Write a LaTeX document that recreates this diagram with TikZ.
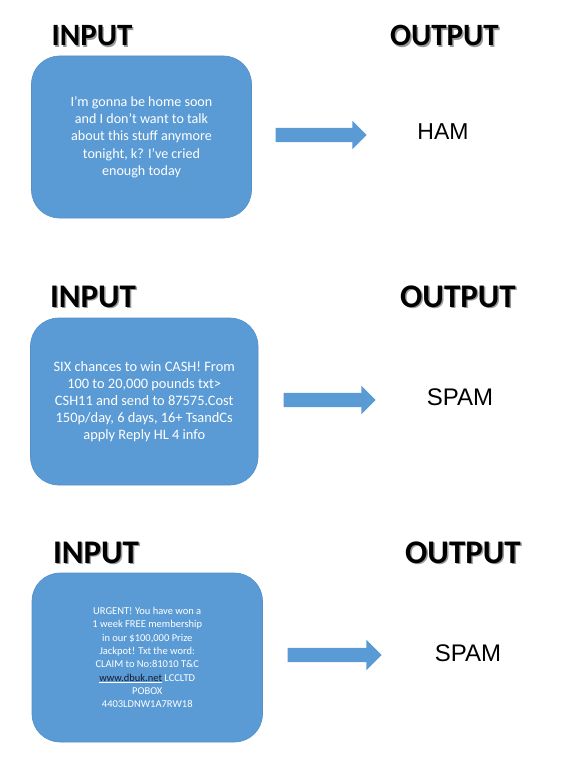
\documentclass[tikz,border=0pt]{standalone}
\usepackage{fontspec}
\setmainfont{Carlito}
\newfontfamily\arialfont{Liberation Sans}
\usetikzlibrary{shapes.arrows}
\definecolor{boxblue}{HTML}{5B9BD5}
\definecolor{boxedge}{HTML}{538FC8}
\definecolor{linkcol}{HTML}{1A1A2E}
\newcommand\shtext[1]{\rlap{\hspace{1.4pt}\raisebox{-1.4pt}{\textcolor{black!40}{#1}}}#1}
\begin{document}
\begin{tikzpicture}[x=1pt,y=-1pt,
  msgbox/.style={draw=boxedge, line width=0.6pt, fill=boxblue, rounded corners=28pt, text=white, align=center, inner sep=0pt},
  header/.style={font=\fontsize{31}{36}\selectfont\bfseries, anchor=base, inner sep=0pt},
  verdict/.style={font=\arialfont\fontsize{23}{27}\selectfont, anchor=base, inner sep=0pt},
  blockarrow/.style={single arrow, fill=boxblue, inner xsep=0pt, inner ysep=7pt, single arrow head extend=7pt, minimum height=91pt}]
\useasboundingbox (0,0) rectangle (561,762);
% section 1
\node[header] (in1) at (92,46) {\shtext{INPUT}};
\node[header] (out1) at (444.5,46) {\shtext{OUTPUT}};
\node[msgbox, minimum width=220pt, minimum height=162pt, font=\fontsize{14.1}{17.25}\selectfont] (m1) at (141.5,137) {I’m gonna be home soon\\and I don’t want to talk\\about this stuff anymore\\tonight, k? I’ve cried\\enough today};
\node[blockarrow] (a1) at (317.5,135) {};
\node[verdict] (v1) at (443,140) {HAM};
% section 2
\node[header, font=\fontsize{33}{38}\selectfont\bfseries] (in2) at (93,307) {\shtext{INPUT}};
\node[header, font=\fontsize{33}{38}\selectfont\bfseries] (out2) at (458,307) {\shtext{OUTPUT}};
\node[msgbox, minimum width=227.5pt, minimum height=167pt, font=\fontsize{14.4}{17}\selectfont] (m2) at (144.25,401.5) {SIX chances to win CASH! From\\100 to 20,000 pounds txt>\\CSH11 and send to 87575.Cost\\150p/day, 6 days, 16+ TsandCs\\apply Reply HL 4 info};
\node[blockarrow, minimum height=92pt] (a2) at (326,400) {};
\node[verdict, font=\arialfont\fontsize{24}{28}\selectfont] (v2) at (460,405) {SPAM};
% section 3
\node[header, font=\fontsize{33}{38}\selectfont\bfseries] (in3) at (96,563) {\shtext{INPUT}};
\node[header, font=\fontsize{33}{38}\selectfont\bfseries] (out3) at (463,563) {\shtext{OUTPUT}};
\node[msgbox, minimum width=230.5pt, minimum height=169pt, font=\fontsize{10.5}{13.3}\selectfont] (m3) at (147.25,657.5) {URGENT! You have won a\\1 week FREE membership\\in our \$100,000 Prize\\Jackpot! Txt the word:\\CLAIM to No:81010 T\&C\\\underline{\textcolor{linkcol}{www.dbuk.net}} LCCLTD\\POBOX\\4403LDNW1A7RW18};
\node[blockarrow, minimum height=94pt, single arrow head extend=8pt] (a3) at (331,655) {};
\node[verdict, font=\arialfont\fontsize{24}{28}\selectfont] (v3) at (468,661) {SPAM};
\end{tikzpicture}
\end{document}
